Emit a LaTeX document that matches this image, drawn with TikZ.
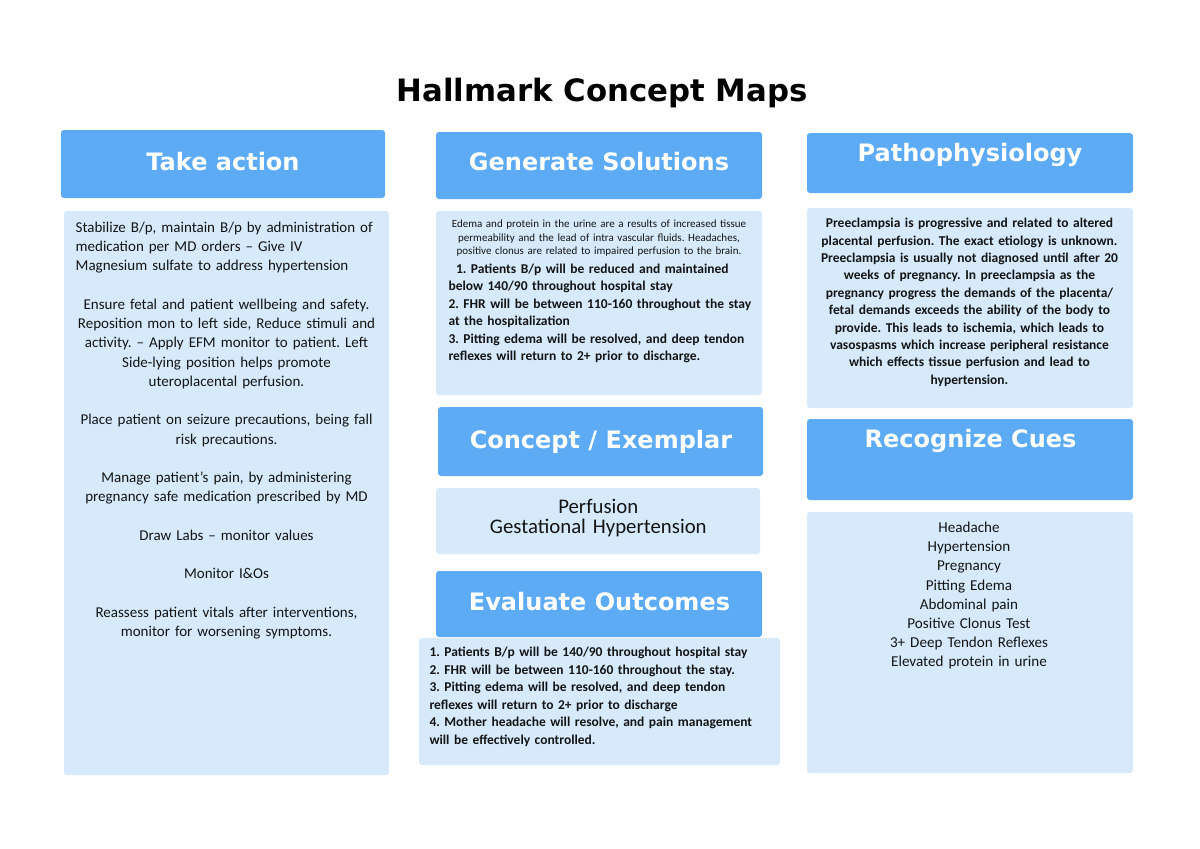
\documentclass[tikz,border=0pt]{standalone}
\usepackage{fontspec}
\setmainfont{Carlito}
\newfontfamily\dejavu{DejaVu Sans}
\definecolor{hblue}{RGB}{93,170,245}
\definecolor{bblue}{RGB}{214,234,252}
\definecolor{ink}{RGB}{20,20,20}
\tikzset{
  hdrbox/.style={fill=hblue, draw=none, rounded corners=3pt},
  bodybox/.style={fill=bblue, draw=none, rounded corners=3pt},
  hdrtext/.style={text=white, inner sep=0pt, font=\dejavu\bfseries\fontsize{24}{28}\selectfont},
  bodytext/.style={text=ink, inner sep=0pt, font=\fontsize{15.0}{19.25}\selectfont},
  boldlist/.style={text=ink, inner sep=0pt, font=\bfseries\fontsize{13.5}{17.5}\selectfont},
}
\begin{document}
\frenchspacing
\begin{tikzpicture}[x=1pt, y=-1pt]
\useasboundingbox (0,0) rectangle (1200,849);
\fill[white] (0,0) rectangle (1200,849);

% title
\node[anchor=base, inner sep=0pt, text=black, font=\dejavu\bfseries\fontsize{30.8}{36}\selectfont] (title) at (602,101) {Hallmark Concept Maps};

% boxes
\path[bodybox] (64,211) rectangle (389,775);
\path[hdrbox] (61,130) rectangle (385,198);
\path[bodybox] (436,211) rectangle (762,395);
\path[hdrbox] (436,132) rectangle (762,199);
\path[bodybox] (436,488) rectangle (760,554);
\path[hdrbox] (438,407) rectangle (763,476);
\path[bodybox] (419,638) rectangle (780,765);
\path[hdrbox] (436,571) rectangle (762,637);
\path[bodybox] (807,208) rectangle (1133,408);
\path[hdrbox] (807,133) rectangle (1133,193);
\path[bodybox] (807,512) rectangle (1133,773);
\path[hdrbox] (807,419) rectangle (1133,500);

% header texts
\node[hdrtext, anchor=base] (tah) at (223,170.7) {Take action};
\node[hdrtext, anchor=base] (gsh) at (599,170.7) {Generate Solutions};
\node[hdrtext, anchor=base] (ceh) at (601,448.3) {Concept / Exemplar};
\node[hdrtext, anchor=base] (eoh) at (599.5,610.7) {Evaluate Outcomes};
\node[hdrtext, anchor=base] (phh) at (970,161.7) {Pathophysiology};
\node[hdrtext, anchor=base] (rch) at (970.5,447.7) {Recognize Cues};

% Take action body
\node[bodytext, anchor=base west, text width=320pt, align=left] (ta1) at (75.5,232.3)
{Stabilize B/p, maintain B/p by administration of\\
medication per MD orders – Give IV\\
Magnesium sulfate to address hypertension};
\node[bodytext, anchor=base, text width=320pt, align=center] (ta2) at (226.5,309.3)
{Ensure fetal and patient wellbeing and safety.\\
Reposition mon to left side, Reduce stimuli and\\
activity. – Apply EFM monitor to patient. Left\\
Side-lying position helps promote\\
uteroplacental perfusion.\\[19.25pt]
Place patient on seizure precautions, being fall\\
risk precautions.\\[19.25pt]
Manage patient’s pain, by administering\\
pregnancy safe medication prescribed by MD\\[19.25pt]
Draw Labs – monitor values\\[19.25pt]
Monitor I\&Os\\[19.25pt]
Reassess patient vitals after interventions,\\
monitor for worsening symptoms.};

% Generate Solutions body
\node[text=ink, inner sep=0pt, font=\fontsize{11}{13.3}\selectfont, anchor=base, text width=330pt, align=center] (gs1) at (599,227.7)
{Edema and protein in the urine are a results of increased tissue\\
permeability and the lead of intra vascular fluids. Headaches,\\
positive clonus are related to impaired perfusion to the brain.};
\node[boldlist, anchor=base west, text width=340pt, align=left] (gs2) at (448.3,273.3)
{\hspace*{7.5pt}1. Patients B/p will be reduced and maintained\\
below 140/90 throughout hospital stay\\
2. FHR will be between 110-160 throughout the stay\\
at the hospitalization\\
3. Pitting edema will be resolved, and deep tendon\\
reflexes will return to 2+ prior to discharge.};

% Concept body
\node[text=ink, inner sep=0pt, font=\fontsize{20.8}{20}\selectfont, anchor=base, text width=320pt, align=center] (ce1) at (598.3,513.3)
{Perfusion\\Gestational Hypertension};

% Evaluate body
\node[boldlist, anchor=base west, text width=350pt, align=left] (eo1) at (429.3,656.7)
{1. Patients B/p will be 140/90 throughout hospital stay\\
2. FHR will be between 110-160 throughout the stay.\\
3. Pitting edema will be resolved, and deep tendon\\
reflexes will return to 2+ prior to discharge\\
4. Mother headache will resolve, and pain management\\
will be effectively controlled.};

% Pathophysiology body
\node[boldlist, font=\bfseries\fontsize{13.5}{17.4}\selectfont, anchor=base, text width=330pt, align=center] (ph1) at (969.5,227.7)
{Preeclampsia is progressive and related to altered\\
placental perfusion. The exact etiology is unknown.\\
Preeclampsia is usually not diagnosed until after 20\\
weeks of pregnancy. In preeclampsia as the\\
pregnancy progress the demands of the placenta/\\
fetal demands exceeds the ability of the body to\\
provide. This leads to ischemia, which leads to\\
vasospasms which increase peripheral resistance\\
which effects tissue perfusion and lead to\\
hypertension.};

% Recognize Cues body
\node[bodytext, font=\fontsize{15.1}{19.14}\selectfont, anchor=base, text width=320pt, align=center] (rc1) at (969,532.7)
{Headache\\
Hypertension\\
Pregnancy\\
Pitting Edema\\
Abdominal pain\\
Positive Clonus Test\\
3+ Deep Tendon Reflexes\\
Elevated protein in urine};
\end{tikzpicture}
\end{document}
